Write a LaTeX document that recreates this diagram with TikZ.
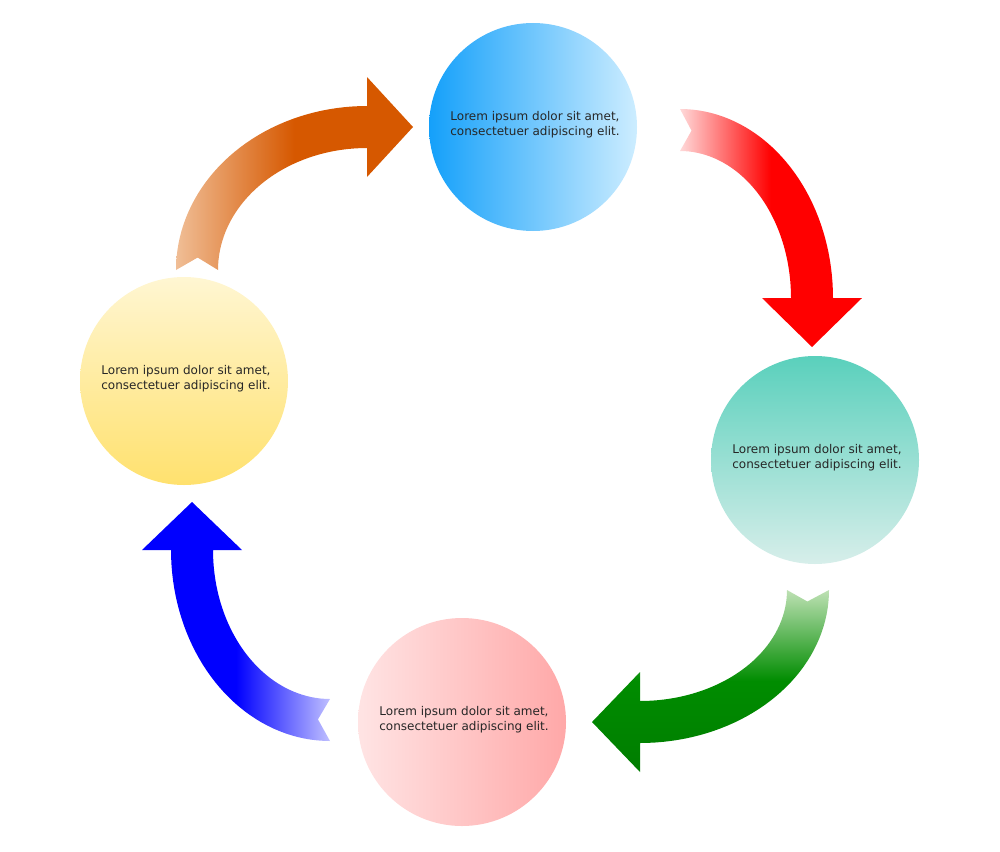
\documentclass[tikz,border=0pt]{standalone}
\usepackage{fontspec}
\setmainfont{DejaVu Sans}
\definecolor{orsolid}{RGB}{214,88,0}
\definecolor{orlight}{RGB}{240,190,150}
\definecolor{gdark}{RGB}{0,125,0}
\definecolor{glight}{RGB}{190,225,180}
\definecolor{c1a}{RGB}{20,160,250}\definecolor{c1b}{RGB}{205,237,255}
\definecolor{c2a}{RGB}{90,208,188}\definecolor{c2b}{RGB}{215,238,234}
\definecolor{c3a}{RGB}{255,228,228}\definecolor{c3b}{RGB}{255,168,168}
\definecolor{c4a}{RGB}{255,246,210}\definecolor{c4b}{RGB}{255,225,110}
\newcommand\arcarr[9]{%
\shade[#9] plot[domain=#5:#6,variable=\t,samples=40] ({#1+(#3+21)*cos(\t)},{#2+(#4+21)*sin(\t)})
 -- ({#1+(#3+50)*cos(#6)},{#2+(#4+50)*sin(#6)}) -- (#7,#8)
 -- ({#1+(#3-50)*cos(#6)},{#2+(#4-50)*sin(#6)})
 -- plot[domain=#6:#5,variable=\t,samples=40] ({#1+(#3-21)*cos(\t)},{#2+(#4-21)*sin(\t)})
 -- ({#1+#3*cos(#5+5)},{#2+#4*sin(#5+5)}) -- cycle;}
\begin{document}
\begin{tikzpicture}[x=1pt,y=-1pt,
  txt/.style={align=center,font=\fontsize{12}{15}\selectfont,text=black!85}]
\useasboundingbox (0,0) rectangle (1000,851);
\arcarr{367}{270}{170}{143}{180}{270}{413}{127}{left color=orlight,right color=orsolid,middle color=orsolid}
\arcarr{680}{298}{132}{168}{270}{360}{812}{347}{left color=red!15,right color=red,middle color=red}
\arcarr{640}{590}{168}{132}{0}{90}{592}{722}{top color=glight,bottom color=gdark,middle color=green!55!black}
\arcarr{330}{550}{138}{170}{90}{180}{192}{502}{right color=blue!25,left color=blue,middle color=blue}
\shade[left color=c1a,right color=c1b] (533,127) circle (104);
\node[txt] (n1) at (535,125) {Lorem ipsum dolor sit amet,\\consectetuer adipiscing elit.};
\shade[top color=c2a,bottom color=c2b] (815,460) circle (104);
\node[txt] (n2) at (817,458) {Lorem ipsum dolor sit amet,\\consectetuer adipiscing elit.};
\shade[left color=c3a,right color=c3b] (462,722) circle (104);
\node[txt] (n3) at (464,720) {Lorem ipsum dolor sit amet,\\consectetuer adipiscing elit.};
\shade[top color=c4a,bottom color=c4b] (184,381) circle (104);
\node[txt] (n4) at (186,379) {Lorem ipsum dolor sit amet,\\consectetuer adipiscing elit.};
\end{tikzpicture}
\end{document}
